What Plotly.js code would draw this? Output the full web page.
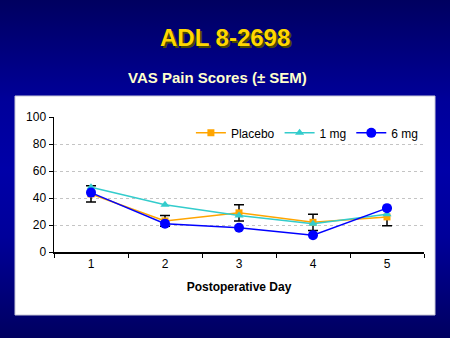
<!DOCTYPE html>
<html>
<head>
<meta charset="utf-8">
<script src="https://cdn.plot.ly/plotly-3.0.1.min.js"></script>
<style>
html,body{margin:0;padding:0;width:450px;height:338px;overflow:hidden;}
body{background:linear-gradient(to bottom,#000060 0%,#00009a 30%,#0000a8 50%,#00009a 70%,#000060 100%);}
#chart{width:450px;height:338px;}
</style>
</head>
<body>
<div id="chart"></div>
<script>
const days = ["1", "2", "3", "4", "5"];
const placebo = [43, 23, 29, 22, 26];
const placeboSem = [6, 4, 6, 6, 6.5];
const mg1 = [48, 35, 27, 21, 28];
const mg6 = [44, 21, 18, 12.5, 32.5];
const yTicks = [0, 20, 40, 60, 80, 100];

const traces = [
  {x: days, y: placebo, name: "Placebo", type: "scatter", mode: "lines+markers",
   line: {color: "#ffa500", width: 1.5}, marker: {symbol: "square", size: 7, color: "#ffa500"},
   error_y: {type: "data", array: placeboSem, visible: true, color: "#000000", thickness: 1.5, width: 5}},
  {x: days, y: mg1, name: "1 mg", type: "scatter", mode: "lines+markers",
   line: {color: "#33cccc", width: 1.5}, marker: {symbol: "triangle-up", size: 8, color: "#33cccc"}},
  {x: days, y: mg6, name: "6 mg", type: "scatter", mode: "lines+markers",
   line: {color: "#0000ff", width: 1.5}, marker: {symbol: "circle", size: 10, color: "#0000ff"}}
];

const plotTop = 117, plotBot = 252, plotL = 54, plotR = 424;
const ph = plotBot - plotTop, pw = plotR - plotL;

const layout = {
  width: 450, height: 338,
  margin: {l: plotL, r: 450 - plotR, t: plotTop, b: 338 - plotBot},
  paper_bgcolor: "rgba(0,0,0,0)",
  plot_bgcolor: "#ffffff",
  font: {family: "Arial, 'Liberation Sans', sans-serif", color: "#000000", size: 11},
  showlegend: true,
  legend: {orientation: "h", x: 0.37, y: 0.99, xanchor: "left", yanchor: "top",
           bgcolor: "rgba(0,0,0,0)", font: {size: 12}, itemwidth: 30, tracegroupgap: 0},
  xaxis: {type: "category", range: [-0.5, 4.5], autorange: false,
          showline: true, linecolor: "#000000", linewidth: 1.5,
          ticks: "outside", tickson: "boundaries", ticklen: 4, tickcolor: "#000000",
          showgrid: false, tickfont: {size: 12},
          title: {text: "<b>Postoperative Day</b>", font: {size: 12}, standoff: 12}},
  yaxis: {range: [0, 100], autorange: false, tickvals: yTicks, showline: true, linecolor: "#000000", linewidth: 1.5,
          ticks: "outside", ticklen: 4, tickcolor: "#000000", tickfont: {size: 12},
          showgrid: true, gridcolor: "#c4c4c4", griddash: "dot", gridwidth: 1, zeroline: false},
  shapes: [
    {type: "rect", xref: "paper", yref: "paper", layer: "below",
     x0: (15 - plotL) / pw, x1: (435 - plotL) / pw,
     y0: (plotBot - 315) / ph, y1: (plotBot - 96) / ph,
     fillcolor: "#ffffff", line: {color: "#c8c8d8", width: 1}}
  ],
  annotations: [
    {text: "<b>ADL 8-2698</b>", xref: "paper", yref: "paper", x: (225 - plotL) / pw, y: (plotBot - 38) / ph,
     showarrow: false, xanchor: "center", yanchor: "middle",
     font: {size: 24, color: "#ffd700", family: "Arial, 'Liberation Sans', sans-serif", shadow: "2px 2px 0px #4a4a00"}},
    {text: "<b>VAS Pain Scores (± SEM)</b>", xref: "paper", yref: "paper", x: (217 - plotL) / pw, y: (plotBot - 78) / ph,
     showarrow: false, xanchor: "center", yanchor: "middle",
     font: {size: 15, color: "#ffffcc", family: "Arial, 'Liberation Sans', sans-serif"}}
  ]
};

Plotly.newPlot("chart", traces, layout, {displayModeBar: false, staticPlot: true});
</script>
</body>
</html>
